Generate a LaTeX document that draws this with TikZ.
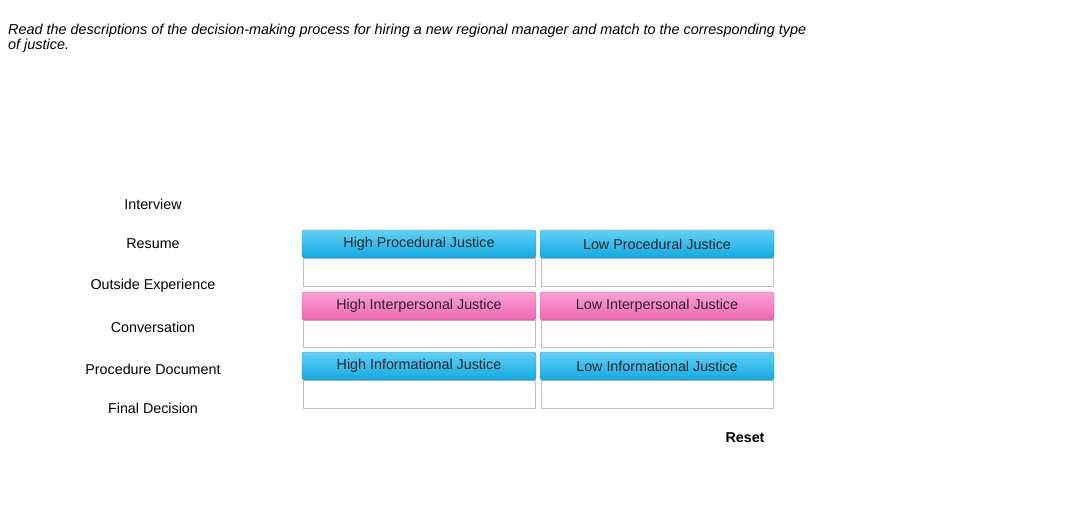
\documentclass[tikz,border=0pt]{standalone}
\usepackage{fontspec}
\setmainfont{Liberation Sans}
\definecolor{bt}{HTML}{62D0F6}
\definecolor{bb}{HTML}{14A9E2}
\definecolor{bd}{HTML}{2A8FC8}
\definecolor{pt}{HTML}{F9A2D4}
\definecolor{pb}{HTML}{EE66B2}
\definecolor{pd}{HTML}{D9489A}
\begin{document}
\begin{tikzpicture}[x=1pt,y=-1pt,
  lbl/.style={font=\fontsize{14.3}{16}\selectfont,anchor=center},
  bluehd/.style={top color=bt,bottom color=bb},
  pinkhd/.style={top color=pt,bottom color=pb},
  drop/.style={draw=black!25,fill=white,line width=1pt}]
\useasboundingbox (0,0) rectangle (1074,523);
\node[anchor=north west,align=left,font=\itshape\fontsize{14.4}{13}\selectfont,inner sep=0] (t) at (8,24) {Read the descriptions of the decision-making process for hiring a new regional manager and match to the corresponding type\\of justice.};
\node[lbl] (i1) at (153,204) {Interview};
\node[lbl] (i2) at (153,244) {Resume};
\node[lbl] (i3) at (153,286) {Outside Experience};
\node[lbl] (i4) at (153,327) {Conversation};
\node[lbl] (i5) at (153,369) {Procedure Document};
\node[lbl] (i6) at (153,408) {Final Decision};
\foreach \y/\ya/\yb/\st/\dc/\ta/\tb in {230/258/286/bluehd/bd/High Procedural Justice/Low Procedural Justice,
  292/320/347/pinkhd/pd/High Interpersonal Justice/Low Interpersonal Justice,
  352/380/408/bluehd/bd/High Informational Justice/Low Informational Justice}{
  \draw[drop] (303,\ya) rectangle (535,\yb);
  \draw[drop] (541,\ya) rectangle (773,\yb);
  \shade[\st,rounded corners=2.5pt] (302,\y) rectangle (536,\ya);
  \shade[\st,rounded corners=2.5pt] (540,\y) rectangle (774,\ya);
  \draw[\dc,rounded corners=2.5pt] (302,\y) rectangle (536,\ya);
  \draw[\dc,rounded corners=2.5pt] (540,\y) rectangle (774,\ya);
  \node[font=\fontsize{14.3}{16}\selectfont,text=black!85] at (419,{(\y+\ya)/2}) {\ta};
  \node[font=\fontsize{14.3}{16}\selectfont,text=black!85] at (657,{(\y+\ya)/2}) {\tb};
}
\node[font=\bfseries\fontsize{14.3}{16}\selectfont] (r) at (745,438) {Reset};
\end{tikzpicture}
\end{document}
